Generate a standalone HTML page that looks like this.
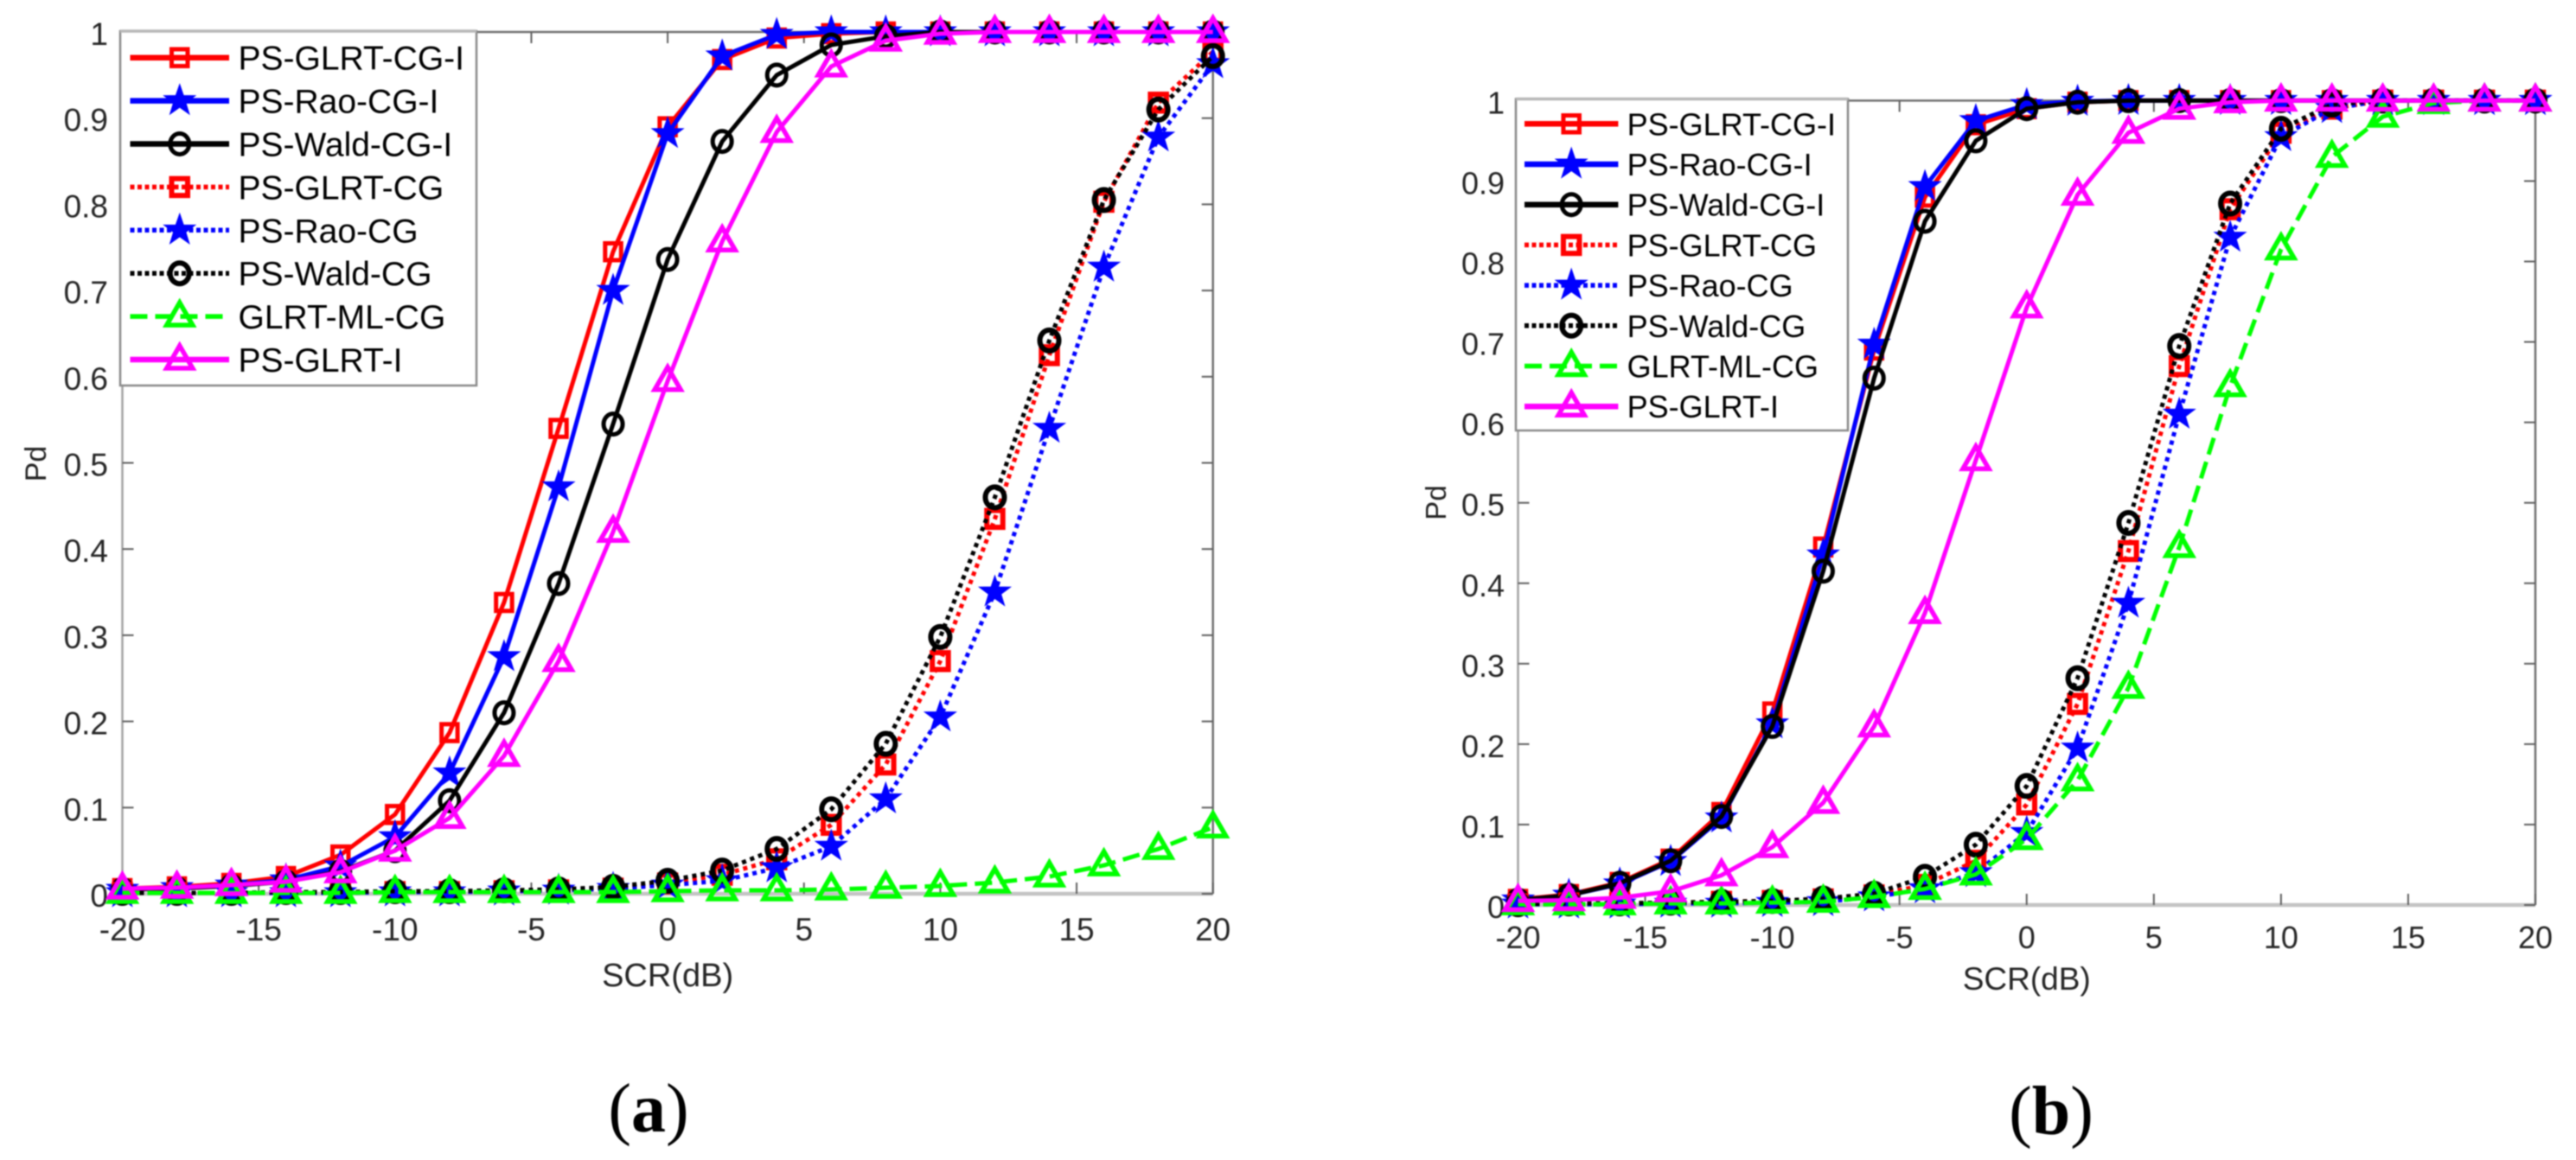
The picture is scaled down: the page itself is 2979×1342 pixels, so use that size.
<!DOCTYPE html>
<html lang="en">
<head>
<meta charset="utf-8">
<title>Pd versus SCR detection curves</title>
<style>
html,body{margin:0;padding:0;background:#fff;width:2979px;height:1342px;overflow:hidden}
svg{display:block;position:absolute;left:0;top:0;filter:blur(0.7px)}
text{font-family:"Liberation Sans",sans-serif}
</style>
</head>
<body>
<svg id="fig" width="2979" height="1342" viewBox="0 0 2979 1342" xmlns="http://www.w3.org/2000/svg"></svg>
<script>
// ---- shared categories and tick labels ----
const scrValues = [-20,-18,-16,-14,-12,-10,-8,-6,-4,-2,0,2,4,6,8,10,12,14,16,18,20];
const xTickValues = [-20,-15,-10,-5,0,5,10,15,20];
const yTickValues = [0,0.1,0.2,0.3,0.4,0.5,0.6,0.7,0.8,0.9,1];
const seriesNames = ['PS-GLRT-CG-I','PS-Rao-CG-I','PS-Wald-CG-I','PS-GLRT-CG','PS-Rao-CG','PS-Wald-CG','GLRT-ML-CG','PS-GLRT-I'];

// ---- panel (a) series ----
const aGlrtCgI = [.006,.008,.012,.02,.045,.092,.187,.338,.54,.745,.89,.968,.993,.998,1,1,1,1,1,1,1];
const aRaoCgI  = [.005,.007,.01,.016,.032,.066,.14,.275,.472,.70,.882,.972,.997,1,1,1,1,1,1,1,1];
const aWaldCgI = [.005,.006,.009,.014,.026,.05,.108,.21,.36,.545,.736,.873,.95,.985,.995,1,1,1,1,1,1];
const aGlrtCg  = [.001,.001,.001,.001,.002,.002,.002,.003,.004,.006,.012,.022,.04,.08,.15,.27,.435,.625,.803,.918,.977];
const aRaoCg   = [.001,.001,.001,.001,.001,.002,.002,.003,.004,.006,.01,.015,.03,.055,.11,.205,.35,.54,.727,.878,.963];
const aWaldCg  = [.001,.001,.001,.002,.002,.003,.003,.004,.005,.008,.015,.027,.052,.098,.174,.298,.46,.642,.805,.91,.972];
const aGlrtMl  = [.001,.001,.001,.001,.001,.002,.002,.002,.002,.002,.003,.004,.004,.005,.007,.009,.013,.02,.033,.052,.077];
const aGlrtI   = [.006,.007,.01,.014,.025,.05,.088,.16,.27,.42,.595,.757,.884,.96,.99,.998,1,1,1,1,1];

// ---- panel (b) series ----
const bGlrtCgI = [.007,.013,.028,.057,.115,.24,.445,.69,.88,.97,.99,.998,1,1,1,1,1,1,1,1,1];
const bRaoCgI  = [.006,.012,.026,.054,.108,.225,.435,.697,.893,.975,.995,.999,1,1,1,1,1,1,1,1,1];
const bWaldCgI = [.006,.012,.027,.055,.11,.222,.415,.655,.85,.95,.99,.998,1,1,1,1,1,1,1,1,1];
const bGlrtCg  = [.001,.002,.002,.003,.004,.005,.007,.012,.025,.055,.125,.25,.44,.67,.865,.96,.99,1,1,1,1];
const bRaoCg   = [.001,.001,.001,.002,.002,.003,.004,.01,.02,.04,.09,.195,.375,.61,.83,.955,.99,1,1,1,1];
const bWaldCg  = [.001,.002,.002,.003,.004,.005,.008,.014,.035,.075,.148,.282,.475,.695,.872,.965,.995,1,1,1,1];
const bGlrtMl  = [.001,.001,.001,.002,.002,.003,.004,.01,.02,.038,.082,.155,.27,.445,.645,.815,.93,.98,.997,1,1];
const bGlrtI   = [.005,.006,.009,.017,.037,.072,.127,.222,.363,.553,.743,.883,.96,.99,.998,1,1,1,1,1,1];

const seriesA = [aGlrtCgI,aRaoCgI,aWaldCgI,aGlrtCg,aRaoCg,aWaldCg,aGlrtMl,aGlrtI];
const seriesB = [bGlrtCgI,bRaoCgI,bWaldCgI,bGlrtCg,bRaoCg,bWaldCg,bGlrtMl,bGlrtI];

// ---- styling per series (index aligned with seriesNames) ----
const styles = [
  {c:'#ff0000',dash:'',m:'square',sw:5},
  {c:'#0000ff',dash:'',m:'star',sw:1},
  {c:'#000000',dash:'',m:'circle',sw:5},
  {c:'#ff0000',dash:'5 5',m:'square',sw:6},
  {c:'#0000ff',dash:'5 5',m:'star',sw:1},
  {c:'#000000',dash:'5 5',m:'circle',sw:6},
  {c:'#00ff00',dash:'20 9',m:'triangle',sw:5.5},
  {c:'#ff00ff',dash:'',m:'triangle',sw:5.5}
];

const NS = 'http://www.w3.org/2000/svg';
const root = document.getElementById('fig');

function make(tag, parent, attrs){
  const node = document.createElementNS(NS, tag);
  for (const k in attrs) node.setAttribute(k, attrs[k]);
  parent.appendChild(node);
  return node;
}

function starPoints(cx, cy, R, r){
  const pts = [];
  for (let i = 0; i < 10; i++){
    const rad = i % 2 ? r : R;
    const a = -Math.PI/2 + i*Math.PI/5;
    pts.push((cx + rad*Math.cos(a)).toFixed(1) + ',' + (cy + rad*Math.sin(a)).toFixed(1));
  }
  return pts.join(' ');
}

function drawMarker(parent, kind, color, cx, cy, sw){
  let m;
  if (kind === 'square'){
    m = make('rect', parent, {x:cx-9.25, y:cy-9.75, width:18.5, height:19.5, fill:'none', stroke:color, 'stroke-width':sw});
  } else if (kind === 'circle'){
    m = make('ellipse', parent, {cx:cx, cy:cy, rx:11, ry:12, fill:'none', stroke:color, 'stroke-width':sw});
  } else if (kind === 'star'){
    m = make('polygon', parent, {points:starPoints(cx, cy, 19, 7.5), fill:color, stroke:color, 'stroke-width':sw});
  } else {
    m = make('polygon', parent, {points:cx+','+(cy-16)+' '+(cx-15)+','+(cy+10)+' '+(cx+15)+','+(cy+10), fill:'none', stroke:color, 'stroke-width':sw});
  }
  
  
  return m;
}

function drawPanel(p){
  const sx = v => p.x0 + (v + 20) * (p.x1 - p.x0) / 40;
  const sy = v => p.y0 - v * (p.y0 - p.y1);

  const g = make('g', root, {});
  
  

  // axes box
  const axes = make('g', g, {});
  
  
  const left = make('line', axes, {x1:p.x0, x2:p.x0, y1:p.y1, y2:p.y0, stroke:'#a4a4a4', 'stroke-width':2.5});
  
  
  const right = make('line', axes, {x1:p.x1, x2:p.x1, y1:p.y1, y2:p.y0, stroke:'#707070', 'stroke-width':2.5});
  
  
  const top = make('line', axes, {x1:p.x0, x2:p.x1, y1:p.y1, y2:p.y1, stroke:'#707070', 'stroke-width':2.5});
  
  
  const bottom = make('line', axes, {x1:p.x0, x2:p.x1, y1:p.y0, y2:p.y0, stroke:'#c4c4c4', 'stroke-width':4.5});
  
  

  // x ticks
  xTickValues.forEach(v => {
    const x = sx(v);
    const t1 = make('line', axes, {x1:x, x2:x, y1:p.y0, y2:p.y0-13, stroke:'#606060', 'stroke-width':2});
    
    
    const t2 = make('line', axes, {x1:x, x2:x, y1:p.y1, y2:p.y1+13, stroke:'#606060', 'stroke-width':2});
    
    
    const lab = make('text', axes, {x:x, y:p.xTickY, 'text-anchor':'middle', 'font-size':p.tickFont, fill:'#262626'});
    lab.textContent = String(v);
    
    
  });

  // y ticks
  yTickValues.forEach(v => {
    const y = sy(v);
    const t1 = make('line', axes, {x1:p.x0, x2:p.x0+13, y1:y, y2:y, stroke:'#606060', 'stroke-width':2});
    
    
    const t2 = make('line', axes, {x1:p.x1, x2:p.x1-13, y1:y, y2:y, stroke:'#606060', 'stroke-width':2});
    
    
    const lab = make('text', axes, {x:p.yTickX, y:y+15, 'text-anchor':'end', 'font-size':p.tickFont, fill:'#262626'});
    lab.textContent = String(v);
    
    
  });

  // axis titles
  const xt = make('text', g, {x:sx(0), y:p.xTitleY, 'text-anchor':'middle', 'font-size':p.tickFont+1, fill:'#262626'});
  xt.textContent = 'SCR(dB)';
  
  
  const yt = make('text', g, {transform:'translate('+p.yTitleX+' '+p.yTitleY+') rotate(-90)', 'text-anchor':'middle', 'font-size':p.pdFont, fill:'#262626'});
  yt.textContent = 'Pd';
  
  

  // series
  p.series.forEach((vals, i) => {
    const st = styles[i];
    const sg = make('g', g, {});
    
    
    const pts = vals.map((v, k) => sx(scrValues[k]).toFixed(1) + ',' + sy(v).toFixed(1)).join(' ');
    const attrs = {points:pts, fill:'none', stroke:st.c, 'stroke-width':5, 'stroke-linejoin':'round'};
    if (st.dash) attrs['stroke-dasharray'] = st.dash;
    const line = make('polyline', sg, attrs);
    
    
    vals.forEach((v, k) => {
      drawMarker(sg, st.m, st.c, sx(scrValues[k]), sy(v), st.sw);
    });
  });

  // legend
  const lg = make('g', g, {});
  
  
  const box = make('rect', lg, {x:p.lx0, y:p.ly0, width:p.lx1-p.lx0, height:p.ly1-p.ly0, fill:'#fff', stroke:'#8a8a8a', 'stroke-width':2.5});
  
  
  const boxTop = make('line', lg, {x1:p.lx0, x2:p.lx1, y1:p.ly0, y2:p.ly0, stroke:'#b8b8b8', 'stroke-width':3.5});
  
  
  seriesNames.forEach((name, i) => {
    const st = styles[i];
    const y = p.lRow0 + i*p.lRowStep;
    const e = make('g', lg, {});
    
    
    const la = {x1:p.lLine0, x2:p.lLine1, y1:y, y2:y, stroke:st.c, 'stroke-width':st.dash ? 5.5 : 6.5};
    if (st.dash) la['stroke-dasharray'] = st.dash === '5 5' ? '5 3.5' : '20 9';
    const sample = make('line', e, la);
    
    
    drawMarker(e, st.m, st.c, (p.lLine0+p.lLine1)/2, y, st.sw);
    const t = make('text', e, {x:p.lText, y:y+p.lFont*0.36, 'font-size':p.lFont, fill:'#000'});
    t.textContent = name;
    
    
  });

  // caption
  const cap = make('text', g, {x:p.capX, y:p.capY, 'text-anchor':'middle', 'font-size':80, fill:'#000'});
  
  
  cap.style.fontFamily = '"Liberation Serif",serif';
  const c1 = make('tspan', cap, {}); c1.textContent = '(';
  
  
  const c2 = make('tspan', cap, {'font-weight':'bold'}); c2.textContent = p.capLetter;
  
  
  const c3 = make('tspan', cap, {}); c3.textContent = ')';
  
  
}

drawPanel({id:'panel-a', series:seriesA, x0:141.5, x1:1402.7, y0:1034, y1:37,
  tickFont:37, pdFont:34, yTickX:125, xTickY:1088, xTitleY:1141, yTitleX:53, yTitleY:536.5,
  lx0:139, lx1:551, ly0:36, ly1:446, lRow0:66.7, lRowStep:49.9, lLine0:150.5, lLine1:265, lText:275.5, lFont:39,
  capX:750, capY:1309, capLetter:'a'});
drawPanel({id:'panel-b', series:seriesB, x0:1755.5, x1:2932, y0:1047, y1:116.4,
  tickFont:36, pdFont:33, yTickX:1740, xTickY:1097, xTitleY:1145, yTitleX:1672, yTitleY:581.5,
  lx0:1753, lx1:2137, ly0:114.5, ly1:498, lRow0:143.3, lRowStep:46.7, lLine0:1763, lLine1:1871.4, lText:1881.6, lFont:36,
  capX:2372, capY:1312, capLetter:'b'});
</script>
</body>
</html>
